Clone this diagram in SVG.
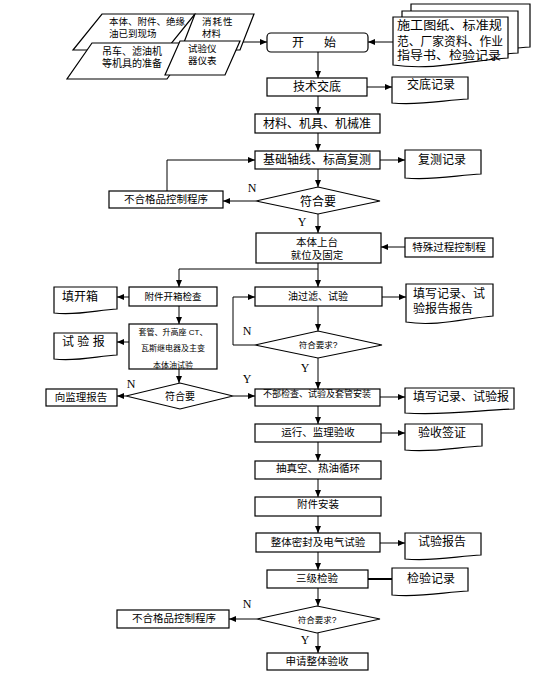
<svg xmlns="http://www.w3.org/2000/svg" width="540" height="680" viewBox="0 0 540 680">
<defs>
<marker id="ah" markerWidth="7" markerHeight="6" refX="7" refY="3" orient="auto" markerUnits="userSpaceOnUse">
<path d="M0,0 L7,3 L0,6 Z" fill="#000"/>
</marker>
<style>
.box{fill:#fff;stroke:#000;stroke-width:1.2}
.ln{fill:none;stroke:#000;stroke-width:1}
.ar{fill:none;stroke:#000;stroke-width:1;marker-end:url(#ah)}
text{font-family:"Liberation Sans","Noto Sans CJK SC",sans-serif;fill:#000}
.t{font-size:10.5px;text-anchor:middle}
.tb{font-size:12px;text-anchor:middle}
.ts{font-size:8px;text-anchor:middle}
.d{font-size:12px}
.p{font-size:9.5px}
.yn{font-family:"Liberation Serif",serif;font-size:12px;text-anchor:middle}
</style>
</defs>
<rect width="540" height="680" fill="#fff"/>

<g id="connectors">
<path class="ar" d="M242,42 H267"/>
<path class="ar" d="M393,42 H368"/>
<path class="ar" d="M318,52 V78"/>
<path class="ar" d="M367,87 H392"/>
<path class="ar" d="M318,96 V114"/>
<path class="ar" d="M318,133 V151"/>
<path class="ar" d="M380,160 H405"/>
<path class="ar" d="M318,169 V187"/>
<path class="ar" d="M256,201 H223"/>
<path class="ar" d="M167,191 V160 H255"/>
<path class="ar" d="M318,214 V233"/>
<path class="ar" d="M405,247 H381"/>
<path class="ar" d="M318,263 V287"/>
<path class="ar" d="M318,269 H179 V287"/>
<path class="ar" d="M129,297 H117"/>
<path class="ar" d="M179,306 V324"/>
<path class="ar" d="M129,342 H117"/>
<path class="ar" d="M179,369 V383"/>
<path class="ar" d="M126,396 H117"/>
<path class="ar" d="M233,396 H255"/>
<path class="ar" d="M318,306 V331"/>
<path class="ar" d="M382,297 H406"/>
<path class="ar" d="M255,345 H233 V297 H255"/>
<path class="ar" d="M318,358 V389"/>
<path class="ar" d="M380,397 H405"/>
<path class="ar" d="M318,406 V424"/>
<path class="ar" d="M381,433 H405"/>
<path class="ar" d="M318,442 V461"/>
<path class="ar" d="M318,479 V497"/>
<path class="ar" d="M318,516 V533"/>
<path class="ar" d="M380,543 H405"/>
<path class="ar" d="M318,552 V570"/>
<path class="ln" d="M368,579 H392" style="stroke-width:2"/>
<path class="ar" d="M318,588 V606"/>
<path class="ar" d="M257,619 H229"/>
<path class="ar" d="M318,633 V653"/>
</g>

<g id="labels">
<text class="yn" x="252" y="192">N</text>
<text class="yn" x="302" y="226">Y</text>
<text class="yn" x="247" y="335">N</text>
<text class="yn" x="305" y="372">Y</text>
<text class="yn" x="247" y="383">Y</text>
<text class="yn" x="131" y="388">N</text>
<text class="yn" x="247" y="608">N</text>
<text class="yn" x="305" y="644">Y</text>
</g>

<g id="inputs">
<polygon class="box" points="102,14 195,14 166,50 73,50"/>
<text class="p" x="109" y="25">本体、附件、绝缘</text>
<text class="p" x="109" y="37">油已到现场</text>
<polygon class="box" points="195,14 254,14 240,50 181,50"/>
<text class="p" x="202" y="25" letter-spacing="1">消耗性</text>
<text class="p" x="202" y="37">材料</text>
<polygon class="box" points="92,43 192,43 167,79 67,79"/>
<text class="p" x="102" y="55" style="font-size:10px">吊车、滤油机</text>
<text class="p" x="102" y="67" style="font-size:10px">等机具的准备</text>
<polygon class="box" points="180,41 240,41 225,75 165,75"/>
<text class="p" x="188" y="52">试验仪</text>
<text class="p" x="188" y="64">器仪表</text>
</g>

<g id="docstack">
<path class="box" d="M411,4 H530 V47 C494,49 453,58 411,52 Z"/>
<path class="box" d="M402,11 H518 V53 C483,55 443,64 402,59 Z"/>
<path class="box" d="M393,17 H508 V58 C473,60 433,71 393,65 Z"/>
<text class="d" x="397" y="30" textLength="105" lengthAdjust="spacingAndGlyphs">施工图纸、标准规</text>
<text class="d" x="397" y="46" textLength="106" lengthAdjust="spacingAndGlyphs">范、厂家资料、作业</text>
<text class="d" x="397" y="60" textLength="104" lengthAdjust="spacingAndGlyphs">指导书、检验记录</text>
</g>

<g id="start">
<rect class="box" x="267" y="33" width="101" height="19" rx="4"/>
<text class="tb" x="298" y="47">开</text>
<text class="tb" x="330" y="47">始</text>
</g>

<g id="jishujiaodi">
<rect class="box" x="267" y="78" width="100" height="18"/>
<text class="tb" x="317" y="91">技术交底</text>
</g>
<g id="jiaodijilu">
<path class="box" d="M392,77 H468 V99 C445,100 419,106 392,103 Z"/>
<text class="d" x="407" y="89">交底记录</text>
</g>

<g id="cailiao">
<rect class="box" x="255" y="114" width="125" height="19"/>
<text class="tb" x="317" y="128">材料、机具、机械准</text>
</g>

<g id="jichu">
<rect class="box" x="255" y="151" width="125" height="18"/>
<text class="tb" x="317" y="164">基础轴线、标高复测</text>
</g>
<g id="fucejilu">
<path class="box" d="M405,150 H481 V174 C458,175 432,181 405,178 Z"/>
<text class="d" x="418" y="164">复测记录</text>
</g>

<g id="buhege1">
<rect class="box" x="109" y="191" width="114" height="17"/>
<text class="t" x="166" y="203">不合格品控制程序</text>
</g>

<g id="decision1">
<polygon class="box" points="256,201 318,187 380,201 318,214"/>
<text class="tb" x="318" y="206">符合要</text>
</g>

<g id="benti">
<rect class="box" x="256" y="233" width="125" height="30"/>
<text class="t" x="317" y="246">本体上台</text>
<text class="t" x="317" y="259">就位及固定</text>
</g>
<g id="teshu">
<rect class="box" x="405" y="238" width="88" height="19"/>
<text class="t" x="449" y="251">特殊过程控制程</text>
</g>

<g id="fujiankaixiang">
<rect class="box" x="129" y="287" width="88" height="19"/>
<text class="t" x="173" y="300" style="font-size:9.5px">附件开箱检查</text>
</g>
<g id="tiankaixiang">
<path class="box" d="M54,287 H117 V309 C98,310 76,316 54,313 Z"/>
<text class="d" x="62" y="301">填开箱</text>
</g>

<g id="taoguan">
<rect class="box" x="129" y="324" width="88" height="45"/>
<text class="ts" x="173" y="335">套管、升高座 CT、</text>
<text class="ts" x="173" y="351">瓦斯继电器及主变</text>
<text class="ts" x="173" y="368">本体油试验</text>
</g>
<g id="shiyanbao">
<path class="box" d="M54,333 H117 V355 C98,356 76,362 54,359 Z"/>
<text class="d" x="62" y="346">试 验 报</text>
</g>

<g id="decision3">
<polygon class="box" points="126,396 180,383 233,396 180,409"/>
<text class="t" x="180" y="400" style="font-size:10px">符合要</text>
</g>
<g id="jianli">
<rect class="box" x="46" y="389" width="71" height="17"/>
<text class="t" x="81" y="401">向监理报告</text>
</g>

<g id="youguolv">
<rect class="box" x="255" y="287" width="127" height="19"/>
<text class="t" x="318" y="300" style="font-size:10px">油过滤、试验</text>
</g>
<g id="tianxie1">
<path class="box" d="M406,284 H493 V316 C467,318 436,327 406,322 Z"/>
<text class="d" x="413" y="298">填写记录、试</text>
<text class="d" x="413" y="313">验报告报告</text>
</g>

<g id="decision2">
<polygon class="box" points="255,345 318,331 382,345 318,358"/>
<text class="ts" x="318" y="348" style="font-size:8.5px">符合要求?</text>
</g>

<g id="bujian">
<rect class="box" x="255" y="389" width="125" height="17"/>
<text class="t" x="317" y="397" style="font-size:9px">不部检查、试验及套管安装</text>
</g>
<g id="tianxie2">
<path class="box" d="M405,388 H514 V409 C481,410 443,416 405,413 Z"/>
<text class="d" x="413" y="401">填写记录、试验报</text>
</g>

<g id="yunxing">
<rect class="box" x="255" y="424" width="126" height="18"/>
<text class="t" x="318" y="436">运行、监理验收</text>
</g>
<g id="yanshou">
<path class="box" d="M405,424 H482 V446 C459,447 432,453 405,450 Z"/>
<text class="d" x="418" y="437">验收签证</text>
</g>

<g id="chouzhenkong">
<rect class="box" x="255" y="461" width="126" height="18"/>
<text class="t" x="318" y="472">抽真空、热油循环</text>
</g>

<g id="fujiananzhuang">
<rect class="box" x="255" y="497" width="126" height="19"/>
<text class="t" x="318" y="508">附件安装</text>
</g>

<g id="zhengtimifeng">
<rect class="box" x="256" y="533" width="124" height="19"/>
<text class="t" x="318" y="546">整体密封及电气试验</text>
</g>
<g id="shiyanbaogao">
<path class="box" d="M405,533 H481 V555 C458,556 432,562 405,559 Z"/>
<text class="d" x="418" y="546">试验报告</text>
</g>

<g id="sanji">
<rect class="box" x="267" y="570" width="101" height="18"/>
<text class="t" x="317" y="582">三级检验</text>
</g>
<g id="jianyanjilu">
<path class="box" d="M392,568 H468 V591 C445,592 419,598 392,595 Z"/>
<text class="d" x="407" y="583">检验记录</text>
</g>

<g id="decision4">
<polygon class="box" points="257,619 317,606 380,619 317,633"/>
<text class="ts" x="317" y="623" style="font-size:8.5px">符合要求?</text>
</g>
<g id="buhege2">
<rect class="box" x="117" y="610" width="112" height="18"/>
<text class="t" x="174" y="622">不合格品控制程序</text>
</g>

<g id="shenqing">
<rect class="box" x="267" y="653" width="101" height="17"/>
<text class="t" x="317" y="665">申请整体验收</text>
</g>
</svg>
